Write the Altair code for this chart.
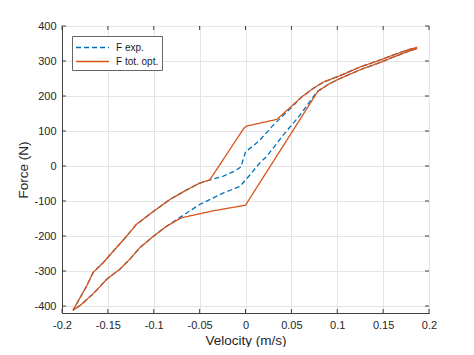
import altair as alt
import pandas as pd

# F tot. opt. loop (velocity m/s, force N) - path order
tot_v = [0.187, 0.176, 0.161, 0.147, 0.125, 0.103, 0.092, 0.079, 0.032, 0.000,
         -0.035, -0.070, -0.086, -0.100, -0.115, -0.126, -0.137, -0.151, -0.166, -0.180, -0.188,
         -0.180, -0.173, -0.166, -0.155, -0.144, -0.131, -0.119, -0.100, -0.082, -0.064,
         -0.050, -0.039, -0.002, 0.001, 0.034, 0.049, 0.061, 0.074, 0.085, 0.103, 0.125,
         0.147, 0.161, 0.176, 0.187]
tot_f = [336, 326, 311, 296, 275, 250, 236, 214, 20, -112,
         -128, -148, -172, -200, -233, -266, -295, -323, -365, -398, -412,
         -375, -342, -304, -276, -243, -205, -167, -129, -95, -68,
         -49, -40, 107, 114, 133, 168, 197, 222, 240, 258, 283,
         303, 317, 331, 339]

# F exp. loop
exp_v = [0.187, 0.176, 0.161, 0.147, 0.125, 0.103, 0.092, 0.079, 0.076, 0.059, 0.041,
         0.023, 0.016, 0.005, -0.006, -0.024, -0.050, -0.071,
         -0.086, -0.100, -0.115, -0.126, -0.137, -0.151, -0.166, -0.180, -0.188,
         -0.180, -0.173, -0.166, -0.155, -0.144, -0.131, -0.119, -0.100, -0.082, -0.064,
         -0.050, -0.039, -0.025, -0.013, -0.005, 0.000, 0.015, 0.030, 0.045, 0.060,
         0.074, 0.085, 0.103, 0.125, 0.147, 0.161, 0.176, 0.187]
exp_f = [336, 326, 311, 296, 275, 250, 236, 214, 205, 144, 88,
         27, 10, -25, -58, -77, -110, -146,
         -172, -200, -233, -266, -295, -323, -365, -398, -412,
         -375, -342, -304, -276, -243, -205, -167, -129, -95, -68,
         -49, -40, -30, -16, -3, 40, 72, 116, 154, 194,
         222, 240, 258, 283, 303, 317, 331, 339]

series_names = ["F exp.", "F tot. opt."]
x_ticks = [-0.2, -0.15, -0.1, -0.05, 0, 0.05, 0.1, 0.15, 0.2]
y_ticks = [-400, -300, -200, -100, 0, 100, 200, 300, 400]

rows = []
for i, (v, f) in enumerate(zip(exp_v, exp_f)):
    rows.append({"v": v, "f": f, "s": series_names[0], "o": i})
for i, (v, f) in enumerate(zip(tot_v, tot_f)):
    rows.append({"v": v, "f": f, "s": series_names[1], "o": i})
df = pd.DataFrame(rows)
xt = pd.DataFrame({"v": x_ticks})
yt = pd.DataFrame({"f": y_ticks})

W, H = 367, 287
TL = 4
xs = alt.Scale(domain=[-0.2, 0.2], nice=False, zero=False)
ys = alt.Scale(domain=[-420, 400], nice=False, zero=False)

lines = alt.Chart(df).mark_line(strokeWidth=1.3).encode(
    x=alt.X("v:Q", scale=xs, title="Velocity (m/s)",
            axis=alt.Axis(values=x_ticks, labelExpr="toString(datum.value)",
                          grid=True, ticks=False, labelFlush=False, labelOverlap=False,
                          labelPadding=6, titlePadding=3)),
    y=alt.Y("f:Q", scale=ys, title="Force (N)",
            axis=alt.Axis(values=y_ticks, labelExpr="toString(datum.value)",
                          grid=True, ticks=False, labelFlush=False, labelOverlap=False,
                          labelPadding=6, titlePadding=3)),
    color=alt.Color("s:N", scale=alt.Scale(domain=series_names, range=["#0072BD", "#D95319"]),
                    legend=alt.Legend(title=None, orient="none", legendX=10, legendY=10,
                                      symbolType="M-1,0H3.4", symbolSize=225,
                                      symbolStrokeWidth=1.4, fillColor="white",
                                      strokeColor="#666666", padding=3, rowPadding=0,
                                      labelFont="Liberation Sans", labelFontSize=10,
                                      labelColor="#1a1a1a", labelOffset=24)),
    strokeDash=alt.StrokeDash("s:N", scale=alt.Scale(domain=series_names, range=[[5, 3], [1, 0]]),
                              legend=None),
    order=alt.Order("o:Q"),
)

tick_color = "#404040"
bottom_ticks = alt.Chart(xt).mark_rule(color=tick_color, strokeWidth=1).encode(
    x=alt.X("v:Q", scale=xs, axis=None), y=alt.value(H), y2=alt.value(H - TL))
top_ticks = alt.Chart(xt).mark_rule(color=tick_color, strokeWidth=1).encode(
    x=alt.X("v:Q", scale=xs, axis=None), y=alt.value(0), y2=alt.value(TL))
left_ticks = alt.Chart(yt).mark_rule(color=tick_color, strokeWidth=1).encode(
    y=alt.Y("f:Q", scale=ys, axis=None), x=alt.value(0), x2=alt.value(TL))
right_ticks = alt.Chart(yt).mark_rule(color=tick_color, strokeWidth=1).encode(
    y=alt.Y("f:Q", scale=ys, axis=None), x=alt.value(W), x2=alt.value(W - TL))

chart = alt.layer(lines, bottom_ticks, top_ticks, left_ticks, right_ticks).resolve_axis(
    x="independent", y="independent"
).properties(
    width=W, height=H,
    autosize=alt.AutoSizeParams(type="none"),
    padding={"left": 54, "top": 18, "right": 37, "bottom": 34},
).configure_view(stroke="#404040", strokeWidth=1).configure_axis(
    domainColor="#404040", gridColor="#e4e4e4", gridWidth=1,
    labelFont="Liberation Sans", labelFontSize=11, labelColor="#262626",
    titleFont="Liberation Sans", titleFontSize=13.5, titleFontWeight="normal",
    titleColor="#262626",
).configure_legend(strokeWidth=1)

chart.save("out.html", embed_options={"renderer": "svg", "actions": False})
